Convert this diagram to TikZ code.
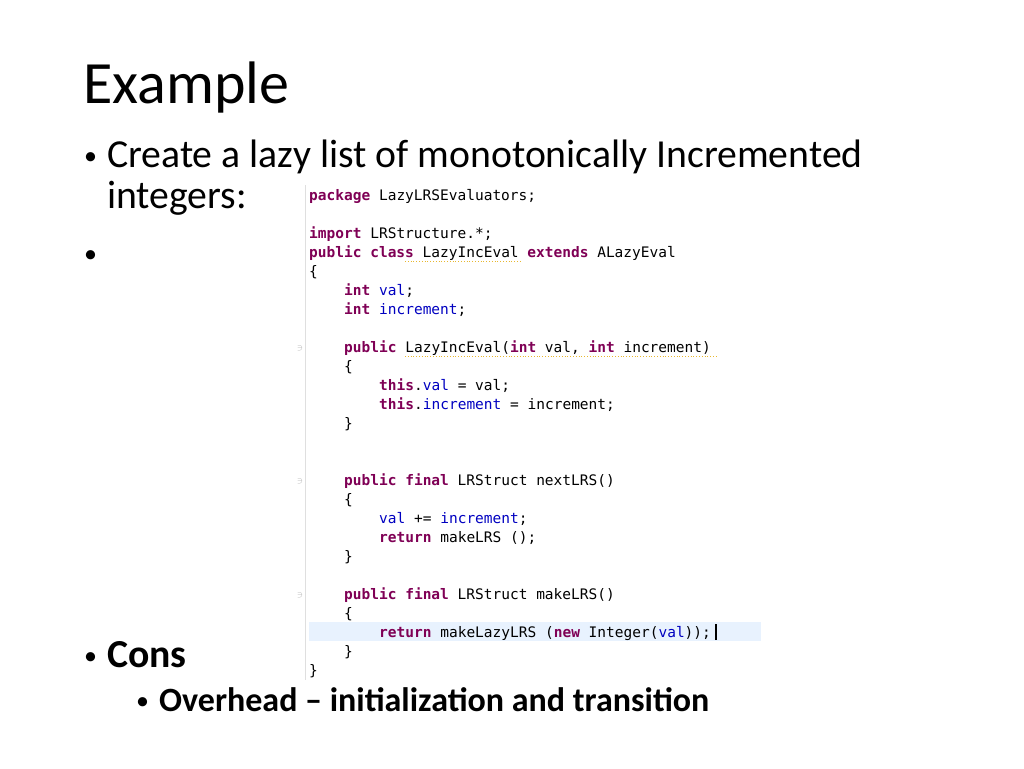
\documentclass[tikz,border=0pt]{standalone}
\usepackage{fontspec}
\setmainfont{Carlito}
\newfontfamily\codefont{DejaVu Sans Mono}
\definecolor{kw}{HTML}{7F0055}
\definecolor{fld}{HTML}{0000C0}
\definecolor{hl}{HTML}{E8F2FE}
\definecolor{warn}{HTML}{E8B830}
\newcommand{\kw}[1]{\textcolor{kw}{#1}}
\newcommand{\fd}[1]{\textcolor{fld}{#1}}

\begin{document}
\begin{tikzpicture}[x=1pt,y=-1pt,
  title/.style={anchor=base west,inner sep=0pt,font=\fontsize{60}{60}\selectfont},
  body/.style={anchor=base west,inner sep=0pt,font=\fontsize{39.7}{40}\selectfont},
  sub/.style={anchor=base west,inner sep=0pt,font=\fontsize{34}{34}\selectfont\bfseries},
  dot/.style={anchor=base west,inner sep=0pt,font=\fontsize{26}{26}\selectfont},
  codeline/.style={anchor=base west,inner sep=0pt,font=\codefont\fontsize{14.5}{14.5}\selectfont},
  marker/.style={anchor=base,inner sep=0pt,text=gray!60,font=\fontsize{9}{9}\selectfont}]

\useasboundingbox (0,0) rectangle (1024,768);

% slide text
\node[title] (title) at (83,103) {Example};
\node[dot] (b1) at (84,164) {•};
\node[body] (t1) at (107,167) {Create a lazy list of monotonically Incremented};
\node[body] (t1b) at (107,208) {integers:};
\node[dot] (b2) at (84,262) {•};
\node[dot] (b3) at (84,664) {•};
\node[body] (t3) at (107,667) {\bfseries Cons};
\node[dot] (b4) at (136,709) {•};
\node[sub] (t4) at (159,711) {Overhead – initialization and transition};

% code screenshot
\fill[hl] (309,622) rectangle (761,641);
\draw[gray!25] (305,185) -- (305,680);
\node[codeline] (c0) at (309,200) {\kw{\bfseries package} LazyLRSEvaluators;};
\node[codeline] (c2) at (309,238) {\kw{\bfseries import} LRStructure.*;};
\node[codeline] (c3) at (309,257) {\kw{\bfseries public class} LazyIncEval \kw{\bfseries extends} ALazyEval};
\node[codeline] (c4) at (309,276) {\{};
\node[codeline] (c5) at (344,295) {\kw{\bfseries int} \fd{val};};
\node[codeline] (c6) at (344,314) {\kw{\bfseries int} \fd{increment};};
\node[codeline] (c8) at (344,352) {\kw{\bfseries public} LazyIncEval(\kw{\bfseries int} val, \kw{\bfseries int} increment)};
\node[codeline] (c9) at (344,371) {\{};
\node[codeline] (c10) at (379,390) {\kw{\bfseries this}.\fd{val} = val;};
\node[codeline] (c11) at (379,409) {\kw{\bfseries this}.\fd{increment} = increment;};
\node[codeline] (c12) at (344,428) {\}};
\node[codeline] (c15) at (344,485) {\kw{\bfseries public final} LRStruct nextLRS()};
\node[codeline] (c16) at (344,504) {\{};
\node[codeline] (c17) at (379,523) {\fd{val} += \fd{increment};};
\node[codeline] (c18) at (379,542) {\kw{\bfseries return} makeLRS ();};
\node[codeline] (c19) at (344,561) {\}};
\node[codeline] (c21) at (344,599) {\kw{\bfseries public final} LRStruct makeLRS()};
\node[codeline] (c22) at (344,618) {\{};
\node[codeline] (c23) at (379,637) {\kw{\bfseries return} makeLazyLRS (\kw{\bfseries new} Integer(\fd{val}));};
\node[codeline] (c24) at (344,656) {\}};
\node[codeline] (c25) at (309,675) {\}};
\draw[line width=1.6pt] (716,624) -- (716,640);

% method markers
\foreach \y in {350,483,597} \node[marker] at (300,\y) {$\ni$};

% warning underlines
\draw[warn,dotted,thick] (405,261) -- (521,261);
\draw[warn,dotted,thick] (405,356) -- (716,356);
\end{tikzpicture}
\end{document}
